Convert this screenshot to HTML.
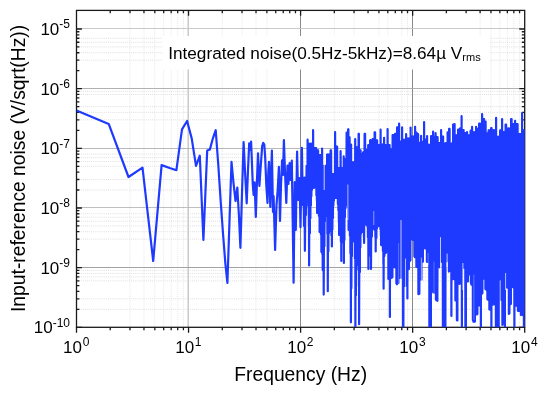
<!DOCTYPE html>
<html><head><meta charset="utf-8"><title>Noise spectrum</title><style>html,body{margin:0;padding:0;background:#fff}</style></head><body>
<svg width="550" height="396" viewBox="0 0 550 396" style="display:block">
<rect x="0" y="0" width="550" height="396" fill="#fff"/>
<path d="M129.96 10.4V327.3M143.96 10.4V327.3M154.82 10.4V327.3M163.69 10.4V327.3M171.19 10.4V327.3M177.69 10.4V327.3M183.42 10.4V327.3M222.28 10.4V327.3M242.01 10.4V327.3M256.01 10.4V327.3M266.87 10.4V327.3M334.33 10.4V327.3M354.06 10.4V327.3M378.92 10.4V327.3M387.79 10.4V327.3M401.79 10.4V327.3M407.52 10.4V327.3M480.11 10.4V327.3M490.97 10.4V327.3M499.84 10.4V327.3M507.34 10.4V327.3M513.84 10.4V327.3M519.57 10.4V327.3" stroke="#e6e6e6" stroke-width="1" stroke-dasharray="1 1.1" fill="none"/>
<path d="M76.5 309.34H524.7M76.5 298.83H524.7M76.5 280.88H524.7M76.5 276.88H524.7M76.5 273.42H524.7M76.5 270.37H524.7M76.5 239.17H524.7M76.5 231.72H524.7M76.5 225.94H524.7M76.5 221.22H524.7M76.5 217.22H524.7M76.5 213.76H524.7M76.5 190.02H524.7M76.5 179.51H524.7M76.5 166.28H524.7M76.5 161.56H524.7M76.5 157.56H524.7M76.5 154.10H524.7M76.5 119.85H524.7M76.5 112.40H524.7M76.5 106.62H524.7M76.5 94.44H524.7M76.5 91.39H524.7M76.5 60.19H524.7M76.5 52.74H524.7M76.5 46.96H524.7M76.5 42.24H524.7M76.5 38.24H524.7" stroke="#dedede" stroke-width="1" stroke-dasharray="1 1.1" fill="none"/>
<path d="M188.2 10.4V327.3" stroke="#c6c6c6" stroke-width="1.4" fill="none"/>
<path d="M300.5 10.4V327.3" stroke="#7c7c7c" stroke-width="0.9" fill="none"/>
<path d="M412.5 10.4V327.3" stroke="#7c7c7c" stroke-width="0.9" fill="none"/>
<path d="M76.5 267.50H524.7" stroke="#989898" stroke-width="0.9" fill="none"/>
<path d="M76.5 207.50H524.7" stroke="#b8b8b8" stroke-width="0.9" fill="none"/>
<path d="M76.5 148.50H524.7" stroke="#b0b0b0" stroke-width="0.9" fill="none"/>
<path d="M76.5 88.50H524.7" stroke="#a8a8a8" stroke-width="0.9" fill="none"/>
<path d="M76.5 28.50H524.7" stroke="#c4c4c4" stroke-width="0.9" fill="none"/>
<rect x="162.5" y="36" width="327.5" height="33.5" fill="#fff"/>
<rect x="76.5" y="10.4" width="448.20000000000005" height="316.90000000000003" fill="none" stroke="#1a1a1a" stroke-width="1.3"/>
<path d="M76.50 327.3v5.4M110.23 327.3v2.9M110.23 10.4v2.9M129.96 327.3v2.9M129.96 10.4v2.9M143.96 327.3v2.9M143.96 10.4v2.9M154.82 327.3v2.9M154.82 10.4v2.9M163.69 327.3v2.9M163.69 10.4v2.9M171.19 327.3v2.9M171.19 10.4v2.9M177.69 327.3v2.9M177.69 10.4v2.9M183.42 327.3v2.9M183.42 10.4v2.9M188.55 327.3v5.4M188.55 10.4v5.4M222.28 327.3v2.9M222.28 10.4v2.9M242.01 327.3v2.9M242.01 10.4v2.9M256.01 327.3v2.9M256.01 10.4v2.9M266.87 327.3v2.9M266.87 10.4v2.9M275.74 327.3v2.9M275.74 10.4v2.9M283.24 327.3v2.9M283.24 10.4v2.9M289.74 327.3v2.9M289.74 10.4v2.9M295.47 327.3v2.9M295.47 10.4v2.9M300.60 327.3v5.4M300.60 10.4v5.4M334.33 327.3v2.9M334.33 10.4v2.9M354.06 327.3v2.9M354.06 10.4v2.9M368.06 327.3v2.9M368.06 10.4v2.9M378.92 327.3v2.9M378.92 10.4v2.9M387.79 327.3v2.9M387.79 10.4v2.9M395.29 327.3v2.9M395.29 10.4v2.9M401.79 327.3v2.9M401.79 10.4v2.9M407.52 327.3v2.9M407.52 10.4v2.9M412.65 327.3v5.4M412.65 10.4v5.4M446.38 327.3v2.9M446.38 10.4v2.9M466.11 327.3v2.9M466.11 10.4v2.9M480.11 327.3v2.9M480.11 10.4v2.9M490.97 327.3v2.9M490.97 10.4v2.9M499.84 327.3v2.9M499.84 10.4v2.9M507.34 327.3v2.9M507.34 10.4v2.9M513.84 327.3v2.9M513.84 10.4v2.9M519.57 327.3v2.9M519.57 10.4v2.9M524.70 327.3v5.4M76.5 327.30h5.4M524.7 327.30h-5.4M76.5 309.34h2.9M524.7 309.34h-2.9M76.5 298.83h2.9M524.7 298.83h-2.9M76.5 291.38h2.9M524.7 291.38h-2.9M76.5 285.60h2.9M524.7 285.60h-2.9M76.5 280.88h2.9M524.7 280.88h-2.9M76.5 276.88h2.9M524.7 276.88h-2.9M76.5 273.42h2.9M524.7 273.42h-2.9M76.5 270.37h2.9M524.7 270.37h-2.9M76.5 267.64h5.4M524.7 267.64h-5.4M76.5 249.68h2.9M524.7 249.68h-2.9M76.5 239.17h2.9M524.7 239.17h-2.9M76.5 231.72h2.9M524.7 231.72h-2.9M76.5 225.94h2.9M524.7 225.94h-2.9M76.5 221.22h2.9M524.7 221.22h-2.9M76.5 217.22h2.9M524.7 217.22h-2.9M76.5 213.76h2.9M524.7 213.76h-2.9M76.5 210.71h2.9M524.7 210.71h-2.9M76.5 207.98h5.4M524.7 207.98h-5.4M76.5 190.02h2.9M524.7 190.02h-2.9M76.5 179.51h2.9M524.7 179.51h-2.9M76.5 172.06h2.9M524.7 172.06h-2.9M76.5 166.28h2.9M524.7 166.28h-2.9M76.5 161.56h2.9M524.7 161.56h-2.9M76.5 157.56h2.9M524.7 157.56h-2.9M76.5 154.10h2.9M524.7 154.10h-2.9M76.5 151.05h2.9M524.7 151.05h-2.9M76.5 148.32h5.4M524.7 148.32h-5.4M76.5 130.36h2.9M524.7 130.36h-2.9M76.5 119.85h2.9M524.7 119.85h-2.9M76.5 112.40h2.9M524.7 112.40h-2.9M76.5 106.62h2.9M524.7 106.62h-2.9M76.5 101.90h2.9M524.7 101.90h-2.9M76.5 97.90h2.9M524.7 97.90h-2.9M76.5 94.44h2.9M524.7 94.44h-2.9M76.5 91.39h2.9M524.7 91.39h-2.9M76.5 88.66h5.4M524.7 88.66h-5.4M76.5 70.70h2.9M524.7 70.70h-2.9M76.5 60.19h2.9M524.7 60.19h-2.9M76.5 52.74h2.9M524.7 52.74h-2.9M76.5 46.96h2.9M524.7 46.96h-2.9M76.5 42.24h2.9M524.7 42.24h-2.9M76.5 38.24h2.9M524.7 38.24h-2.9M76.5 34.78h2.9M524.7 34.78h-2.9M76.5 31.73h2.9M524.7 31.73h-2.9M76.5 29.00h5.4M524.7 29.00h-5.4" stroke="#1a1a1a" stroke-width="1.3" fill="none"/>
<clipPath id="pc"><rect x="76.5" y="10.4" width="448.20000000000005" height="316.90000000000003"/></clipPath>
<g clip-path="url(#pc)">
<path d="M76.5 110.4 108.7 123.9 128.5 177.0 142.5 167.6 153.2 261.0 161.6 165.1 169.7 168.0 176.4 170.2 182.0 129.4 187.1 121.0 191.7 138.4 196.0 165.8 199.8 155.7 203.4 240.0 207.2 150.6 209.9 149.4 212.9 138.3 215.7 130.2 218.3 165.0 220.8 203.0 223.2 236.0 225.4 264.0 227.4 283.0 229.7 215.0 231.5 161.8 233.5 183.0 235.5 201.0 237.3 187.5 238.9 215.0 240.4 247.8 242.1 190.0 243.6 142.0 245.2 175.0 246.7 203.3 248.0 170.0 249.2 143.4 250.2 150.0 251.1 141.7 252.8 184.7 253.6 195.0 254.6 182.3 255.8 216.9 257.0 180.0 258.0 153.4 259.4 186.0 260.6 168.0 262.2 146.0 263.2 142.8 264.3 144.5 265.2 158.0 266.3 185.0 267.5 203.0 268.3 172.0 269.0 161.8 270.3 207.0 271.1 175.0 271.9 150.5 273.0 212.0 273.6 196.0 275.1 250.0 276.5 205.0 277.7 190.0 278.9 166.9 280.0 221.0 281.0 185.0 282.1 160.3 283.0 175.0 283.9 140.2 285.0 172.0 286.3 203.0 287.5 165.5 288.4 184.0 289.6 163.0 290.6 180.0 291.8 160.7 292.7 220.0 293.6 282.7 294.7 182.0 295.8 230.0 297.1 151.5 298.2 200.0 299.5 178.0 300.5 227.3 301.9 147.8 302.8 205.0 303.4 178.0 304.0 226.0 304.5 177.5 304.9 250.8 305.6 178.5 306.0 215.0 306.6 165.8 306.9 195.6 307.1 165.8 307.4 195.1 307.6 139.7 307.9 197.0 308.1 143.9 308.4 205.9 308.6 143.9 308.9 226.5 308.9 143.9 309.1 265.5 309.6 143.9 309.9 233.3 310.1 143.9 310.4 218.3 310.6 143.9 310.9 205.5 311.1 143.9 311.4 196.2 311.6 143.9 311.9 190.1 312.1 143.9 312.4 187.8 312.6 143.9 312.9 185.9 313.1 130.2 313.4 187.5 313.6 148.0 313.8 188.0 314.1 148.0 314.4 187.6 314.6 148.0 314.9 185.6 315.1 148.0 315.4 187.5 315.6 148.0 315.9 187.6 316.1 148.0 316.4 195.5 316.6 150.4 316.9 200.6 316.9 150.4 317.1 213.0 317.6 150.4 317.9 212.3 318.1 150.4 318.4 213.0 318.6 155.1 318.9 216.0 319.1 155.1 319.4 216.8 319.4 155.1 319.6 232.0 320.1 155.1 320.4 230.4 320.6 155.1 320.9 234.4 321.2 155.1 321.4 252.0 321.6 155.1 321.9 251.9 322.1 148.6 322.4 254.7 322.5 165.8 322.7 270.0 323.1 165.8 323.4 271.1 323.5 165.8 323.7 294.6 324.1 199.0 324.4 246.3 324.6 199.0 324.9 221.5 325.1 199.0 325.4 215.6 325.6 165.8 325.8 216.0 326.1 165.8 326.4 214.6 326.6 165.8 326.9 215.9 327.1 154.6 327.4 233.9 327.6 154.6 327.8 291.2 328.1 154.6 328.4 251.3 328.6 154.6 328.9 233.2 329.2 154.6 329.4 231.0 329.6 154.6 329.9 228.5 330.1 154.6 330.4 231.0 330.6 150.4 330.9 230.4 331.1 150.4 331.4 235.2 331.7 174.1 331.9 246.5 332.1 174.1 332.4 229.4 332.6 174.1 332.9 218.3 333.1 174.1 333.4 205.6 333.6 174.1 333.9 200.8 334.1 174.1 334.4 197.0 334.6 174.1 334.9 197.8 335.1 132.0 335.4 197.3 335.4 146.6 335.6 198.0 336.1 146.6 336.4 196.6 336.6 146.6 336.9 198.0 337.1 146.6 337.4 197.7 337.6 168.2 337.9 204.1 338.1 168.2 338.4 210.6 338.6 168.2 338.9 222.2 338.9 168.2 339.1 235.0 339.6 168.2 339.9 233.3 340.1 168.2 340.4 234.6 340.6 151.0 340.9 241.7 341.1 168.2 341.3 261.0 341.6 168.2 341.9 242.7 342.1 168.2 342.4 240.3 342.4 168.2 342.6 240.0 343.1 168.2 343.4 240.0 343.7 156.3 343.9 263.0 344.1 159.3 344.4 240.0 344.6 159.3 344.9 217.3 345.1 159.3 345.4 208.8 345.6 159.3 345.9 205.4 346.1 159.3 346.3 205.0 346.6 132.6 346.9 203.7 347.1 132.6 347.4 204.2 347.6 132.6 347.9 207.5 348.1 129.3 348.4 217.8 348.4 129.3 348.6 230.0 349.1 137.4 349.4 226.2 349.6 137.4 349.9 235.7 350.1 144.5 350.4 253.5 350.7 144.5 350.9 322.3 351.1 144.5 351.4 288.2 351.6 162.3 351.9 256.2 352.1 162.3 352.4 242.0 352.6 162.3 352.9 237.3 353.1 162.3 353.3 238.0 353.6 162.3 353.9 236.3 354.1 162.3 354.4 241.6 354.6 162.3 354.9 258.2 355.2 139.1 355.4 326.6 355.6 147.4 355.9 295.6 356.1 147.4 356.4 270.1 356.6 147.4 356.9 262.7 357.1 147.4 357.3 262.0 357.6 147.4 357.9 262.2 358.1 147.4 358.4 265.2 358.6 133.8 358.9 286.2 358.9 133.8 359.1 324.2 359.6 150.4 359.9 272.1 360.1 150.4 360.4 247.3 360.6 150.4 360.9 233.9 361.1 154.0 361.4 231.0 361.6 154.0 361.9 230.3 361.8 154.0 362.0 232.0 362.6 154.0 362.9 232.0 363.1 152.3 363.4 231.7 363.6 152.3 363.9 236.9 363.9 152.3 364.1 243.0 364.6 133.9 364.9 224.7 365.1 133.9 365.4 224.7 365.6 149.9 365.9 220.0 365.8 149.9 366.0 224.0 366.6 149.9 366.9 224.5 367.1 149.9 367.4 226.4 367.6 149.9 367.9 237.2 368.2 145.1 368.4 269.0 368.6 145.1 368.9 256.1 369.1 145.1 369.4 249.5 369.5 145.1 369.7 250.0 370.1 140.4 370.4 250.4 370.6 140.4 370.9 254.5 370.8 140.4 371.0 269.0 371.6 140.4 371.9 236.8 372.1 140.4 372.4 230.0 372.6 139.2 372.9 226.3 372.9 139.2 373.1 228.0 373.6 139.2 373.9 227.2 374.1 139.2 374.4 229.1 374.6 132.3 374.9 230.1 375.1 132.3 375.4 237.2 375.5 140.4 375.7 251.5 376.1 140.4 376.4 238.0 376.6 140.4 376.9 228.6 377.1 140.4 377.4 226.9 377.6 145.1 377.9 225.5 378.1 145.1 378.4 224.2 378.4 145.1 378.6 226.0 379.1 145.1 379.4 223.0 379.6 145.1 379.9 225.0 380.1 145.1 380.4 229.2 380.6 129.7 380.9 235.9 380.9 144.6 381.1 245.0 381.6 144.6 381.9 244.9 382.1 144.6 382.4 246.1 382.6 144.6 382.9 250.9 383.1 144.6 383.4 264.2 383.4 144.6 383.6 288.7 384.1 137.8 384.4 256.1 384.6 145.1 384.9 250.3 385.1 145.1 385.3 252.4 385.6 145.1 385.9 252.9 385.9 145.1 386.1 252.6 386.6 145.1 386.9 251.1 387.1 145.1 387.4 251.3 387.6 129.1 387.9 251.1 388.1 145.1 388.4 278.9 388.6 145.1 388.9 277.8 389.1 145.1 389.4 278.0 389.6 145.1 389.9 317.0 390.1 149.3 390.4 278.3 390.6 149.3 390.9 278.2 391.1 149.3 391.4 277.8 391.6 149.3 391.9 277.7 392.1 149.3 392.4 277.3 392.6 135.1 392.9 266.4 393.1 135.1 393.4 267.2 393.6 135.1 393.9 266.4 394.1 135.1 394.4 266.2 394.6 135.1 394.9 267.5 395.1 133.9 395.4 266.0 395.6 133.9 395.9 266.3 396.1 133.9 396.4 283.5 396.6 133.9 396.9 284.3 397.1 127.4 397.4 283.2 397.6 127.4 397.9 283.3 398.1 127.4 398.4 283.1 398.6 127.4 398.9 278.0 399.1 123.6 399.4 278.0 399.6 141.6 399.9 277.4 400.1 141.6 400.4 276.0 400.6 141.6 400.9 277.7 401.1 141.6 401.4 277.7 401.6 141.6 401.9 276.5 402.1 127.4 402.4 277.9 402.6 139.8 402.9 326.7 403.1 139.8 403.4 326.7 403.6 139.8 403.9 284.6 404.1 139.8 404.4 285.1 404.6 139.8 404.9 286.0 405.1 139.8 405.4 284.5 405.6 139.8 405.9 284.4 406.1 134.2 406.4 285.7 406.6 138.6 406.9 286.0 407.1 138.6 407.4 298.5 407.6 138.6 407.9 269.6 408.1 138.6 408.4 261.5 408.6 138.6 408.9 269.1 409.1 138.6 409.4 261.5 409.6 138.6 409.9 260.9 410.1 138.6 410.4 260.3 410.6 127.6 410.9 239.2 411.1 136.6 411.4 239.1 411.6 136.6 411.9 238.3 412.1 136.6 412.4 239.3 412.6 136.6 412.9 239.9 413.1 136.6 413.4 238.9 413.6 136.6 413.9 239.1 414.1 136.6 414.4 256.5 414.6 136.6 414.9 257.2 415.1 126.8 415.4 256.3 415.6 132.7 415.9 257.1 416.1 132.7 416.4 266.9 416.6 132.7 416.9 266.7 417.1 134.2 417.4 267.1 417.6 134.2 417.9 266.8 418.1 134.2 418.4 294.2 418.6 142.8 418.9 293.1 419.1 142.8 419.4 293.8 419.6 142.8 419.9 279.6 420.1 142.8 420.4 279.5 420.6 142.8 420.9 261.5 421.1 135.9 421.4 279.7 421.6 142.5 421.9 260.5 422.1 141.6 422.4 261.5 422.6 142.5 422.9 261.7 423.1 142.5 423.4 247.7 423.6 142.5 423.9 248.2 424.1 122.1 424.4 247.7 424.6 139.6 424.9 247.7 425.1 139.6 425.4 248.4 425.6 139.6 425.9 248.6 426.1 139.6 426.4 248.6 426.6 139.6 426.9 261.8 427.1 136.0 427.4 261.9 427.6 144.9 427.9 261.9 428.1 144.9 428.4 261.5 428.6 144.9 428.9 261.5 429.1 144.9 429.4 326.7 429.6 144.9 429.9 326.7 430.1 144.9 430.4 326.7 430.6 144.9 430.9 326.7 431.1 136.0 431.4 291.8 431.6 136.0 431.9 291.2 432.1 136.0 432.4 291.4 432.6 136.0 432.9 291.6 433.1 131.6 433.4 292.4 433.6 136.6 433.9 292.3 434.1 136.6 434.4 292.6 434.6 136.6 434.9 291.1 435.1 136.6 435.4 291.9 435.6 133.0 435.9 299.4 436.1 137.2 436.4 300.3 436.6 137.2 436.9 299.4 437.1 137.2 437.4 300.8 437.6 137.2 437.9 266.6 438.1 143.1 438.4 266.2 438.6 143.1 438.9 260.4 439.1 143.1 439.4 267.3 439.6 143.1 439.9 261.5 440.1 143.1 440.4 261.0 440.6 143.1 440.9 261.2 441.1 130.1 441.4 261.2 441.6 136.6 441.9 261.9 442.1 136.6 442.4 260.8 442.6 136.6 442.9 326.7 443.1 136.6 443.4 326.7 443.6 143.7 443.9 326.7 444.1 143.7 444.4 326.7 444.6 143.7 444.9 326.7 445.1 143.7 445.4 326.7 445.6 143.7 445.9 260.5 446.1 143.1 446.4 260.4 446.6 143.1 446.9 261.2 447.1 143.1 447.4 260.4 447.6 132.4 447.9 261.1 448.1 132.4 448.4 260.6 448.6 132.4 448.9 271.6 449.1 128.9 449.4 271.1 449.6 128.9 449.9 270.4 450.1 143.7 450.4 270.3 450.6 143.7 450.9 271.6 451.1 143.7 451.4 316.0 451.6 143.7 451.9 278.6 452.1 143.7 452.4 279.3 452.6 143.7 452.9 279.2 453.1 124.7 453.4 278.5 453.6 124.7 453.9 278.1 454.1 124.7 454.4 278.2 454.6 124.1 454.9 279.7 455.1 135.4 455.4 300.4 455.6 135.4 455.9 278.6 456.1 135.4 456.4 300.9 456.6 135.4 456.9 320.3 457.1 135.4 457.4 320.5 457.6 135.4 457.9 283.8 458.1 129.5 458.4 283.3 458.6 129.5 458.9 283.2 459.1 129.5 459.4 284.0 459.6 129.5 459.9 282.8 460.1 128.3 460.4 282.6 460.6 128.3 460.9 283.3 461.1 128.3 461.4 283.2 461.6 116.2 461.9 326.7 462.1 130.1 462.4 267.0 462.6 130.1 462.9 266.8 463.1 130.1 463.4 267.7 463.6 130.1 463.9 266.0 464.1 133.0 464.4 267.0 464.6 133.0 464.9 267.0 465.1 133.0 465.4 326.7 465.6 133.0 465.9 326.7 466.1 133.0 466.4 281.6 466.6 133.0 466.9 281.4 467.1 132.1 467.4 280.4 467.6 135.4 467.9 281.4 468.1 135.4 468.4 273.6 468.6 135.4 468.9 274.5 469.1 135.4 469.4 273.2 469.6 135.4 469.9 274.4 470.1 135.4 470.4 273.2 470.6 130.7 470.9 283.1 471.1 130.7 471.4 284.7 471.6 130.7 471.9 284.3 472.1 126.9 472.4 283.6 472.6 132.4 472.9 320.2 473.1 132.4 473.4 321.7 473.6 132.4 473.9 321.8 474.1 132.4 474.4 321.2 474.6 132.4 474.9 321.6 475.1 132.4 475.4 314.5 475.6 132.4 475.9 314.2 476.1 126.9 476.4 313.4 476.6 128.9 476.9 314.4 477.1 128.9 477.4 314.0 477.6 128.9 477.9 304.8 478.1 128.9 478.4 305.6 478.6 128.9 478.9 304.6 479.1 123.5 479.4 305.5 479.6 123.9 479.9 304.6 480.1 123.9 480.4 305.0 480.6 123.9 480.9 326.7 481.1 123.9 481.4 294.5 481.6 123.9 481.9 278.4 482.1 114.0 482.4 293.2 482.6 119.1 482.9 278.4 483.1 119.1 483.4 277.3 483.6 119.1 483.9 278.6 484.1 119.1 484.4 278.3 484.6 121.5 484.9 277.1 485.1 121.5 485.4 289.0 485.6 121.5 485.9 289.2 486.1 133.4 486.4 289.9 486.6 133.4 486.9 288.8 487.1 133.4 487.4 299.3 487.6 133.4 487.9 299.4 488.1 133.4 488.4 299.9 488.6 130.4 488.9 299.3 489.1 130.4 489.4 309.5 489.6 130.4 489.9 309.6 490.1 130.4 490.4 309.5 490.6 130.4 490.9 308.9 491.1 128.0 491.4 326.7 491.6 128.0 491.9 304.8 492.1 130.4 492.4 304.0 492.6 130.4 492.9 304.6 493.1 130.4 493.4 303.0 493.6 130.4 493.9 304.5 494.1 130.4 494.4 303.6 494.6 130.4 494.9 303.9 495.1 130.4 495.4 304.1 495.6 130.4 495.9 326.7 496.1 117.9 496.4 326.7 496.6 136.9 496.9 326.7 497.1 136.9 497.4 326.7 497.6 136.9 497.9 326.7 498.1 136.9 498.4 326.7 498.6 136.9 498.9 326.7 499.1 136.9 499.4 298.7 499.6 136.9 499.9 299.7 500.1 130.4 500.4 298.4 500.6 130.4 500.9 299.7 501.1 130.4 501.4 298.7 501.6 130.4 501.9 299.6 502.1 119.1 502.4 325.0 502.6 132.2 502.9 323.7 503.1 132.2 503.4 323.7 503.6 132.2 503.9 323.7 504.1 132.2 504.4 286.3 504.6 132.2 504.9 326.7 505.1 132.2 505.4 287.3 505.6 124.5 505.9 287.2 506.1 124.5 506.4 286.8 506.6 128.6 506.9 286.1 507.1 128.6 507.4 287.7 507.6 128.6 507.9 287.6 508.1 128.6 508.4 287.7 508.6 128.6 508.9 314.0 509.1 128.6 509.4 313.5 509.6 128.6 509.9 303.9 510.1 128.6 510.4 303.6 510.6 128.6 510.9 304.1 511.1 119.1 511.4 287.7 511.6 119.1 511.9 286.6 512.1 124.2 512.4 286.5 512.6 124.2 512.9 286.1 513.1 124.2 513.4 287.3 513.6 124.2 513.9 286.6 514.1 124.2 514.4 326.7 514.6 124.2 514.9 304.0 515.1 120.9 515.4 305.8 515.6 124.2 515.9 304.5 516.1 124.2 516.4 305.7 516.6 124.2 516.9 304.4 517.1 124.2 517.4 304.9 517.6 124.2 517.9 310.8 518.1 134.0 518.4 310.1 518.6 134.0 518.9 311.1 519.1 134.0 519.4 311.0 519.6 134.0 519.9 310.7 520.1 134.0 520.4 310.7 520.6 134.0 520.9 315.1 521.1 134.0 521.4 314.7 521.6 134.0 521.9 314.1 522.1 113.2 522.4 313.6 522.6 130.4 522.9 315.2 523.1 130.4 523.4 315.3 523.6 130.4 523.9 326.7 524.1 130.4 524.4 326.7 524.6 130.4 524.9 326.7 525.1 130.4 525.4 326.7" stroke="#1e3aff" stroke-width="2.2" stroke-linejoin="round" fill="none"/>
<path d="M401.0 220V326" stroke="#fff" stroke-opacity="0.9" stroke-width="0.8" fill="none"/>
<path d="M405.5 258.5V300" stroke="#fff" stroke-opacity="0.8" stroke-width="0.8" fill="none"/>
<path d="M421.4 257.7V326" stroke="#fff" stroke-opacity="0.8" stroke-width="0.7" fill="none"/>
<path d="M440.5 237.2V268" stroke="#fff" stroke-opacity="0.9" stroke-width="0.8" fill="none"/>
<path d="M447.1 253.6V268" stroke="#fff" stroke-opacity="0.9" stroke-width="0.8" fill="none"/>
<path d="M462.9 263V290" stroke="#fff" stroke-opacity="0.9" stroke-width="0.8" fill="none"/>
<path d="M473.9 274.6V320" stroke="#fff" stroke-opacity="0.5" stroke-width="0.6" fill="none"/>
<path d="M500.2 280.4V326" stroke="#fff" stroke-opacity="0.85" stroke-width="0.8" fill="none"/>
<path d="M505.6 273V290" stroke="#fff" stroke-opacity="0.85" stroke-width="0.8" fill="none"/>
<path d="M398.6 243V285" stroke="#fff" stroke-opacity="0.45" stroke-width="0.6" fill="none"/>
<path d="M428.1 253V265" stroke="#fff" stroke-opacity="0.5" stroke-width="0.6" fill="none"/>
<path d="M434 261.7V300" stroke="#fff" stroke-opacity="0.45" stroke-width="0.6" fill="none"/>
<path d="M324.2 160V190" stroke="#fff" stroke-opacity="0.85" stroke-width="0.9" fill="none"/>
<path d="M347.9 184.5V220" stroke="#fff" stroke-opacity="0.8" stroke-width="0.8" fill="none"/>
<path d="M373.8 211V225" stroke="#fff" stroke-opacity="0.7" stroke-width="0.7" fill="none"/>
</g>
<text x="63.1" y="353.0" font-size="17" font-family="'Liberation Sans', sans-serif" fill="#000">10<tspan dx="0.7" dy="-6.6" font-size="12">0</tspan></text>
<text x="175.2" y="353.0" font-size="17" font-family="'Liberation Sans', sans-serif" fill="#000">10<tspan dx="0.7" dy="-6.6" font-size="12">1</tspan></text>
<text x="287.2" y="353.0" font-size="17" font-family="'Liberation Sans', sans-serif" fill="#000">10<tspan dx="0.7" dy="-6.6" font-size="12">2</tspan></text>
<text x="399.3" y="353.0" font-size="17" font-family="'Liberation Sans', sans-serif" fill="#000">10<tspan dx="0.7" dy="-6.6" font-size="12">3</tspan></text>
<text x="511.3" y="353.0" font-size="17" font-family="'Liberation Sans', sans-serif" fill="#000">10<tspan dx="0.7" dy="-6.6" font-size="12">4</tspan></text>
<text x="70.0" y="333.2" text-anchor="end" font-size="17" font-family="'Liberation Sans', sans-serif" fill="#000">10<tspan dy="-6.6" font-size="12">-10</tspan></text>
<text x="70.0" y="273.5" text-anchor="end" font-size="17" font-family="'Liberation Sans', sans-serif" fill="#000">10<tspan dy="-6.6" font-size="12">-9</tspan></text>
<text x="70.0" y="213.9" text-anchor="end" font-size="17" font-family="'Liberation Sans', sans-serif" fill="#000">10<tspan dy="-6.6" font-size="12">-8</tspan></text>
<text x="70.0" y="154.2" text-anchor="end" font-size="17" font-family="'Liberation Sans', sans-serif" fill="#000">10<tspan dy="-6.6" font-size="12">-7</tspan></text>
<text x="70.0" y="94.6" text-anchor="end" font-size="17" font-family="'Liberation Sans', sans-serif" fill="#000">10<tspan dy="-6.6" font-size="12">-6</tspan></text>
<text x="70.0" y="34.9" text-anchor="end" font-size="17" font-family="'Liberation Sans', sans-serif" fill="#000">10<tspan dy="-6.6" font-size="12">-5</tspan></text>
<text x="300.7" y="381.4" text-anchor="middle" font-size="19.3" font-family="'Liberation Sans', sans-serif" fill="#000">Frequency (Hz)</text>
<text transform="translate(25.2 168.4) rotate(-90)" text-anchor="middle" font-size="19.3" font-family="'Liberation Sans', sans-serif" fill="#000">Input-reference noise (V/sqrt(Hz))</text>
<text x="168.2" y="58.7" font-size="17.2" font-family="'Liberation Sans', sans-serif" fill="#000">Integrated noise(0.5Hz-5kHz)=8.64µ V<tspan dy="2.6" font-size="11">rms</tspan></text>
</svg>
</body></html>
